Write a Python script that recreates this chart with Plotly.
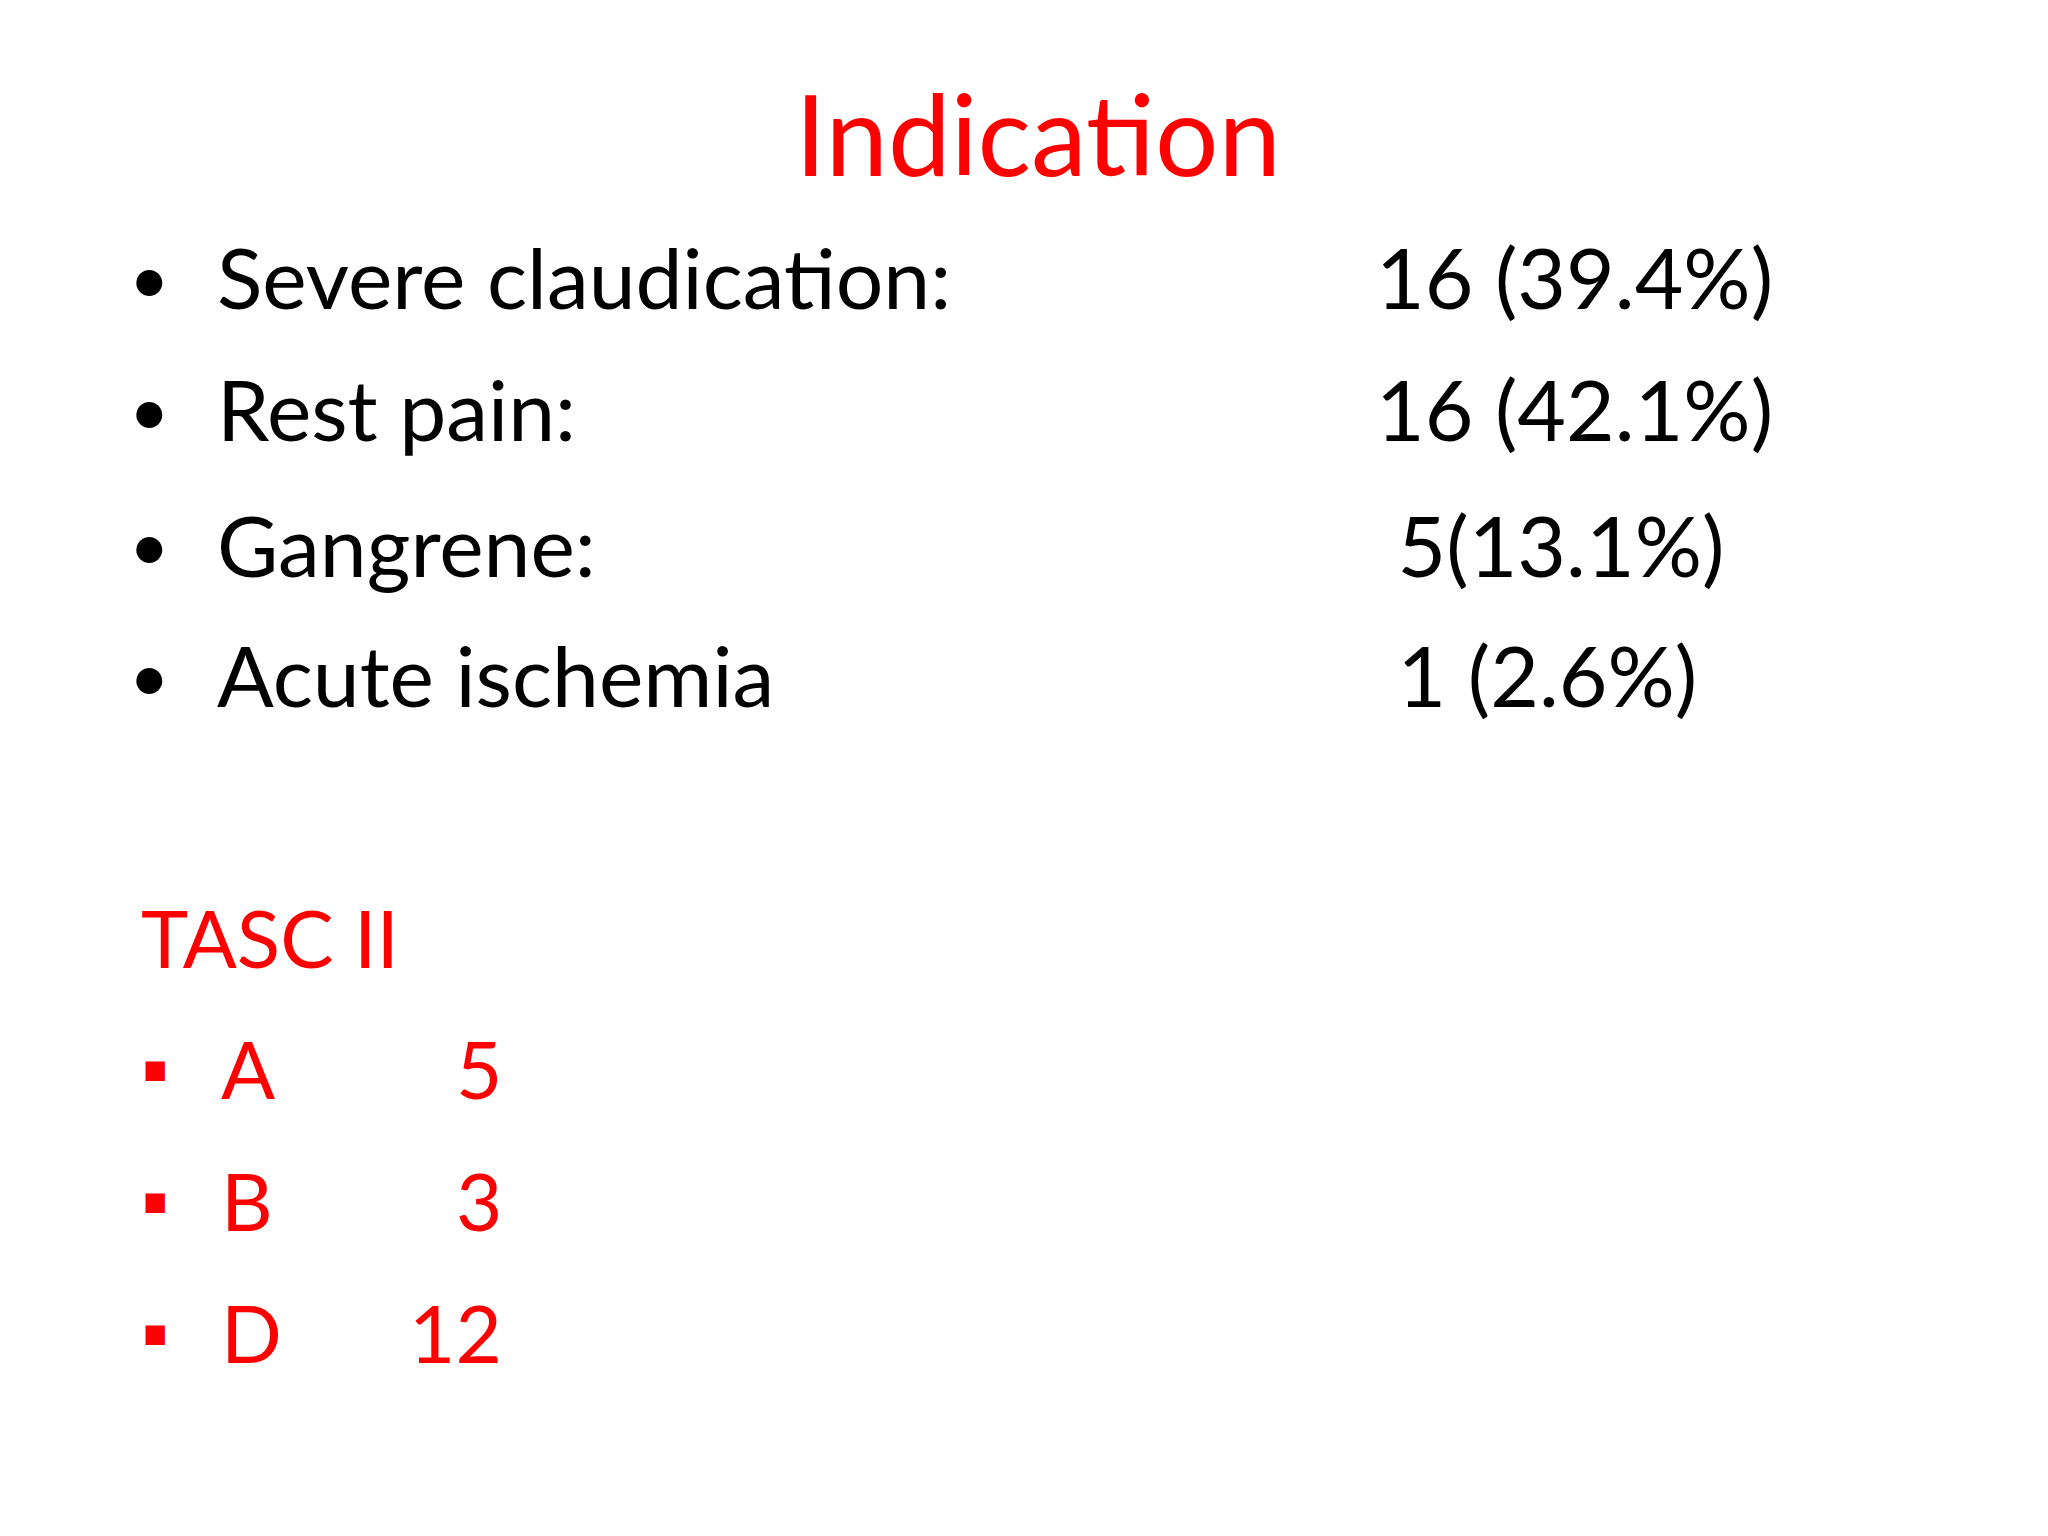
import plotly.graph_objects as go

# slide content
title = "Indication"
indications = ["Severe claudication:", "Rest pain:", "Gangrene:", "Acute ischemia"]
ind_counts = ["16 (39.4%)", "16 (42.1%)", " 5(13.1%)", " 1 (2.6%)"]
tasc_title = "TASC II"
tasc_classes = ["A", "B", "D"]
tasc_counts = [5, 3, 12]

FONT = "Comic Sans MS, Lato, Noto Sans, sans-serif"
RED = "#ff0000"


def note(x, y, text, size, color, xanchor="left"):
    return dict(x=x, y=y, xref="paper", yref="paper", text=text, showarrow=False,
                font=dict(family=FONT, size=size, color=color),
                xanchor=xanchor, yanchor="middle")


ann = [note(0.503, 1 - 0.081, title, 112, RED, "center")]

ind_y = [0.175, 0.261, 0.349, 0.434]
for i, (lab, val) in enumerate(zip(indications, ind_counts)):
    y = 1 - ind_y[i]
    ann.append(note(0.069, y, "•", 70, "black", "center"))
    ann.append(note(0.101, y, lab, 84, "black"))
    ann.append(note(0.667, y, val, 84, "black"))

ann.append(note(0.064, 1 - 0.605, tasc_title, 80, RED))

tasc_y = [0.690, 0.776, 0.862]
for i, (c, n) in enumerate(zip(tasc_classes, tasc_counts)):
    y = 1 - tasc_y[i]
    ann.append(note(0.072, y, "■", 40, RED, "center"))
    ann.append(note(0.103, y, c, 80, RED))
    ann.append(note(0.242, y, str(n), 80, RED, "right"))

fig = go.Figure()
fig.update_layout(
    annotations=ann,
    width=2048, height=1536,
    margin=dict(l=0, r=0, t=0, b=0),
    paper_bgcolor="white", plot_bgcolor="white",
    xaxis=dict(visible=False), yaxis=dict(visible=False),
)

fig.write_html("out.html")
